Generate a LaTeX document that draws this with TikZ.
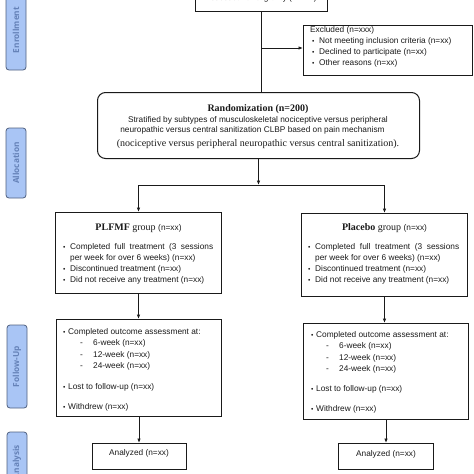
\documentclass[tikz,border=0pt]{standalone}
\usepackage{fontspec}
\setmainfont{Liberation Serif}
\setsansfont{Liberation Sans}
\newfontfamily\labfont{Open Sans}
\usetikzlibrary{arrows.meta}
\definecolor{labfill}{HTML}{A9C5F5}
\definecolor{labdraw}{HTML}{4F5F7F}
\definecolor{labtext}{HTML}{6582B8}
\definecolor{ink}{HTML}{1A1A1A}
\newcommand{\sz}{\fontsize{8.3}{11.3}\selectfont}
\newcommand{\bul}{\makebox[7pt][l]{\scalebox{0.8}{\textbullet}}}
\newcommand{\bulb}{\makebox[5pt][l]{\scalebox{0.8}{\textbullet}}}
\begin{document}
\begin{tikzpicture}[x=1pt,y=-1pt,
  box/.style={draw=ink, line width=1pt, inner sep=0, anchor=north west},
  txt/.style={inner sep=0, anchor=base west, font=\sffamily\sz, text=ink},
  ctxt/.style={inner sep=0, anchor=base, font=\sffamily\sz, text=ink},
  lab/.style={draw=labdraw, fill=labfill, line width=0.8pt, rounded corners=3pt, rotate=90, minimum height=20pt, inner sep=0, font=\labfont\bfseries\fontsize{8.3}{10}\selectfont, text=labtext},
  conn/.style={draw=ink, line width=0.9pt},
  arr/.style={conn, -{Latex[length=4.5pt,width=3.6pt]}}]
\clip (0,0) rectangle (474,474);
\useasboundingbox (0,0) rectangle (474,474);

% side labels
\node[lab, minimum width=80pt] (lenr) at (16,30) {Enrollment};
\node[lab, minimum width=70pt] (lall) at (16,163) {Allocation};
\node[lab, minimum width=83pt] (lfol) at (17,366.5) {Follow-Up};
\node[lab, minimum width=60pt] (lana) at (17,462) {Analysis};

% boxes
\node[box, minimum width=132pt, minimum height=36pt] (top) at (195,-25) {};
\node[box, minimum width=169pt, minimum height=50pt] (excl) at (303,25) {};
\node[box, rounded corners=8pt, minimum width=322pt, minimum height=66pt] (rand) at (97,92) {};
\node[box, minimum width=166pt, minimum height=81pt] (plf) at (55,212) {};
\node[box, minimum width=166pt, minimum height=83pt] (plc) at (301,213) {};
\node[box, minimum width=165pt, minimum height=97pt] (fl) at (56,319) {};
\node[box, minimum width=165pt, minimum height=96pt] (fr) at (303,323) {};
\node[box, minimum width=94pt, minimum height=26pt] (al) at (92,443) {};
\node[box, minimum width=95pt, minimum height=26pt] (ar) at (338,443) {};

% texts
\node[ctxt] (toptxt) at (261,0.6) {Assessed for eligibility (n=xxx)};
\node[txt] (extxt) at (310,32) {\parbox[t]{160pt}{\sz Excluded (n=xxx)\\
\hspace*{2pt}\bul Not meeting inclusion criteria (n=xx)\\
\hspace*{2pt}\bul Declined to participate (n=xx)\\
\hspace*{2pt}\bul Other reasons (n=xx)}};

\node[ctxt, font=\rmfamily\fontsize{10}{12}\selectfont\bfseries] (r1) at (258,111) {Randomization (n=200)};
\node[ctxt] (r2) at (258,122) {Stratified by subtypes of musculoskeletal nociceptive versus peripheral};
\node[ctxt] (r3) at (252.5,132.5) {neuropathic versus central sanitization CLBP based on pain mechanism};
\node[ctxt, font=\rmfamily\fontsize{10}{12}\selectfont] (r4) at (258,146) {(nociceptive versus peripheral neuropathic versus central sanitization).};

\node[ctxt, font=\rmfamily\fontsize{10}{12}\selectfont] (plfh) at (138.5,230) {\textbf{PLFMF} group {\sffamily\sz (n=xx)}};
\node[txt] (plft) at (63,249) {\parbox[t]{155pt}{\sz
\bul\makebox[143pt][s]{Completed full treatment (3 sessions}\\
\hspace*{7pt}per week for over 6 weeks) (n=xx)\\
\bul Discontinued treatment (n=xx)\\
\bul Did not receive any treatment (n=xx)}};

\node[ctxt, font=\rmfamily\fontsize{10}{12}\selectfont] (plch) at (384.5,230.5) {\textbf{Placebo} group {\sffamily\sz (n=xx)}};
\node[txt] (plct) at (308,249) {\parbox[t]{155pt}{\sz
\bul\makebox[144pt][s]{Completed full treatment (3 sessions}\\
\hspace*{7pt}per week for over 6 weeks) (n=xx)\\
\bul Discontinued treatment (n=xx)\\
\bul Did not receive any treatment (n=xx)}};

\node[txt] (flt) at (63,334.5) {\parbox[t]{155pt}{\sz
\bulb Completed outcome assessment at:\\
\hspace*{17pt}\makebox[13pt][l]{-}6-week (n=xx)\\
\hspace*{17pt}\makebox[13pt][l]{-}12-week (n=xx)\\
\hspace*{17pt}\makebox[13pt][l]{-}24-week (n=xx)\\[9.3pt]
\bulb Lost to follow-up (n=xx)\\[9pt]
\bulb Withdrew (n=xx)}};

\node[txt] (frt) at (311,337.5) {\parbox[t]{155pt}{\sz
\bulb Completed outcome assessment at:\\
\hspace*{15pt}\makebox[13pt][l]{-}6-week (n=xx)\\
\hspace*{15pt}\makebox[13pt][l]{-}12-week (n=xx)\\
\hspace*{15pt}\makebox[13pt][l]{-}24-week (n=xx)\\[9pt]
\bulb Lost to follow-up (n=xx)\\[8pt]
\bulb Withdrew (n=xx)}};

\node[ctxt] (alt) at (139,455) {Analyzed (n=xx)};
\node[ctxt] (art) at (386,456) {Analyzed (n=xx)};

% connectors
\coordinate (split) at (rand.south |- 0,185);
\draw[conn] (top.south) -- (top.south |- rand.north);
\draw[arr] (top.south |- 0,48) -- (excl.west |- 0,48);
\draw[arr] (rand.south) -- (split);
\draw[conn] (plf.north |- split) -- (plc.north |- split);
\draw[arr] (plf.north |- split) -- (plf.north);
\draw[arr] (plc.north |- split) -- (plc.north);
\draw[arr] (plf.south) -- (plf.south |- fl.north);
\draw[arr] (plc.south) -- (plc.south |- fr.north);
\draw[arr] (fl.south) -- (fl.south |- al.north);
\draw[arr] (fr.south) -- (fr.south |- ar.north);
\end{tikzpicture}
\end{document}
